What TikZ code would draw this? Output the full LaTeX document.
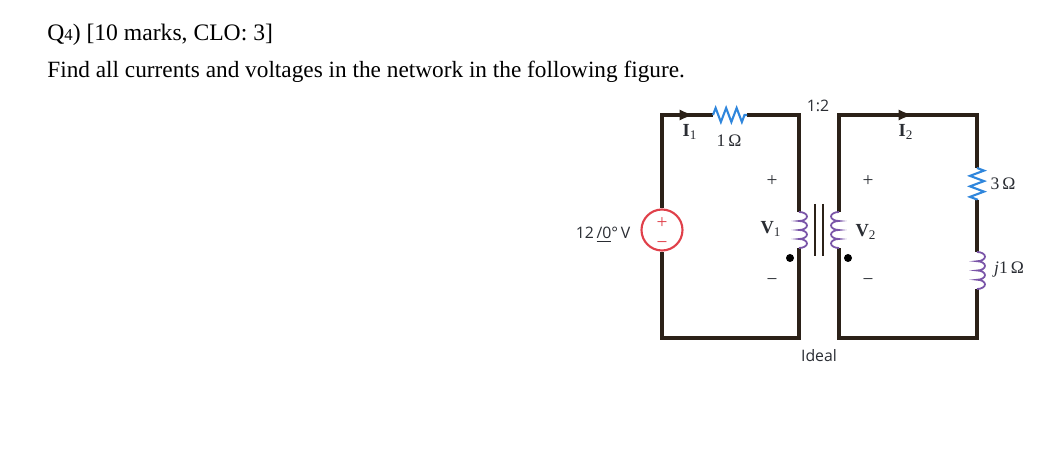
\documentclass[tikz,border=0pt]{standalone}
\usepackage{fontspec}
\setmainfont{Liberation Serif}
\setsansfont{Open Sans}
\usetikzlibrary{decorations.pathmorphing}
\definecolor{wirecol}{HTML}{2B2118}
\definecolor{rescol}{HTML}{2F86DC}
\definecolor{coilcol}{HTML}{7A55A8}
\definecolor{srccol}{HTML}{E0404A}
\definecolor{labcol}{HTML}{2A2D33}
\tikzset{
  wire/.style={draw=wirecol, line width=1.8pt, line join=miter},
  resistor/.style={draw=rescol, line width=1.2pt, decorate, decoration={zigzag, amplitude=0.14cm, segment length=0.21cm}},
  coilwire/.style={draw=coilcol, line width=1pt},
  corebar/.style={draw=wirecol, line width=1.6pt},
  headtext/.style={anchor=base west, inner sep=0pt, font=\fontsize{13.25}{16}\selectfont},
  vallabel/.style={inner sep=0pt, text=labcol, font=\fontsize{10}{11}\selectfont},
  sanslabel/.style={inner sep=0pt, text=labcol, font=\sffamily\fontsize{9}{10}\selectfont},
  signlabel/.style={inner sep=0pt, text=labcol, font=\fontsize{11}{12}\selectfont},
  varlabel/.style={inner sep=0pt, text=labcol, font=\bfseries\fontsize{10.5}{12}\selectfont},
  polaritydot/.style={circle, fill=black, inner sep=0pt, minimum size=0.16cm},
}
\begin{document}
\begin{tikzpicture}
  \useasboundingbox (0,0) rectangle (21.26,9.44);

  \node[headtext, font=\fontsize{13.45}{16}\selectfont] (title) at (0.94, 8.63) {Q{\fontsize{9.5}{10}\selectfont 4}) [10 marks, CLO: 3]};
  \node[headtext] (task) at (0.94, 7.88) {Find all currents and voltages in the network in the following figure.};

  \node[circle, draw=srccol, line width=1.2pt, fill=white, minimum size=0.82cm, inner sep=0pt] (src) at (13.24, 4.84) {};
  \node[inner sep=0pt, text=srccol, font=\fontsize{11}{12}\selectfont] (srcplus) at (13.24, 4.97) {+};
  \node[inner sep=0pt, text=srccol, font=\fontsize{11}{12}\selectfont] (srcminus) at (13.24, 4.53) {\textminus};

  \coordinate (r1a) at (14.26, 7.14);
  \coordinate (r1b) at (14.94, 7.14);
  \coordinate (n1) at (15.98, 7.14);
  \coordinate (l1a) at (15.98, 5.2);
  \coordinate (l1b) at (15.98, 4.48);
  \coordinate (n2) at (15.98, 2.68);
  \coordinate (n3) at (16.78, 7.14);
  \coordinate (l2a) at (16.78, 5.2);
  \coordinate (l2b) at (16.78, 4.48);
  \coordinate (n4) at (16.78, 2.68);
  \coordinate (n5) at (19.54, 7.14);
  \coordinate (r2a) at (19.54, 6.08);
  \coordinate (r2b) at (19.54, 5.44);
  \coordinate (l3a) at (19.54, 4.4);
  \coordinate (l3b) at (19.54, 3.66);
  \coordinate (n6) at (19.54, 2.68);
  \coordinate (i1a) at (13.6, 7.14);
  \coordinate (i1b) at (13.88, 7.14);
  \coordinate (i2a) at (17.98, 7.14);
  \coordinate (i2b) at (18.26, 7.14);
  \coordinate (c1a) at (16.3, 5.36);
  \coordinate (c1b) at (16.3, 4.32);
  \coordinate (c2a) at (16.46, 5.36);
  \coordinate (c2b) at (16.46, 4.32);

  \draw[wire] (src) |- (r1a);
  \draw[wire] (r1b) -- (n1) -- (l1a);
  \draw[wire] (l1b) -- (n2) -| (src);
  \draw[wire] (l2a) -- (n3) -- (n5) -- (r2a);
  \draw[wire] (r2b) -- (l3a);
  \draw[wire] (l3b) -- (n6) -- (n4) -- (l2b);
  \draw[wire, -latex] (i1a) -- (i1b);
  \draw[wire, -latex] (i2a) -- (i2b);

  \draw[resistor] (r1a) -- (r1b);
  \draw[resistor] (r2a) -- (r2b);

  \draw[coilwire] (l1a) \foreach \k in {1,...,4} {arc[start angle=90, end angle=-90, x radius=0.16, y radius=0.09]};
  \draw[coilwire] (l2a) \foreach \k in {1,...,4} {arc[start angle=90, end angle=270, x radius=0.16, y radius=0.09]};
  \draw[coilwire] (l3a) \foreach \k in {1,...,4} {arc[start angle=90, end angle=-90, x radius=0.16, y radius=0.0925]};

  \draw[corebar] (c1a) -- (c1b);
  \draw[corebar] (c2a) -- (c2b);

  \node[polaritydot] (dot1) at (15.8, 4.28) {};
  \node[polaritydot] (dot2) at (16.96, 4.28) {};

  \node[sanslabel] (srclab) at (12.06, 4.74) {12\,\underline{/0}°\,V};
  \node[varlabel] (i1lab) at (13.8, 6.8) {I\textsubscript{\fontsize{7.5}{8}\selectfont\mdseries 1}};
  \node[vallabel] (r1lab) at (14.58, 6.62) {1\,Ω};
  \node[sanslabel] (ratio) at (16.36, 7.33) {1:2};
  \node[signlabel] (p1) at (15.44, 5.82) {+};
  \node[varlabel] (v1lab) at (15.42, 4.86) {V\textsubscript{\fontsize{7.5}{8}\selectfont\mdseries 1}};
  \node[signlabel] (m1) at (15.44, 3.8) {\textminus};
  \node[signlabel] (p2) at (17.36, 5.82) {+};
  \node[varlabel] (v2lab) at (17.32, 4.8) {V\textsubscript{\fontsize{7.5}{8}\selectfont\mdseries 2}};
  \node[signlabel] (m2) at (17.36, 3.8) {\textminus};
  \node[varlabel] (i2lab) at (18.12, 6.8) {I\textsubscript{\fontsize{7.5}{8}\selectfont\mdseries 2}};
  \node[vallabel] (r2lab) at (20.06, 5.76) {3\,Ω};
  \node[vallabel] (l3lab) at (20.18, 4.04) {\textit{j}1\,Ω};
  \node[sanslabel] (ideal) at (16.38, 2.32) {Ideal};
\end{tikzpicture}
\end{document}
